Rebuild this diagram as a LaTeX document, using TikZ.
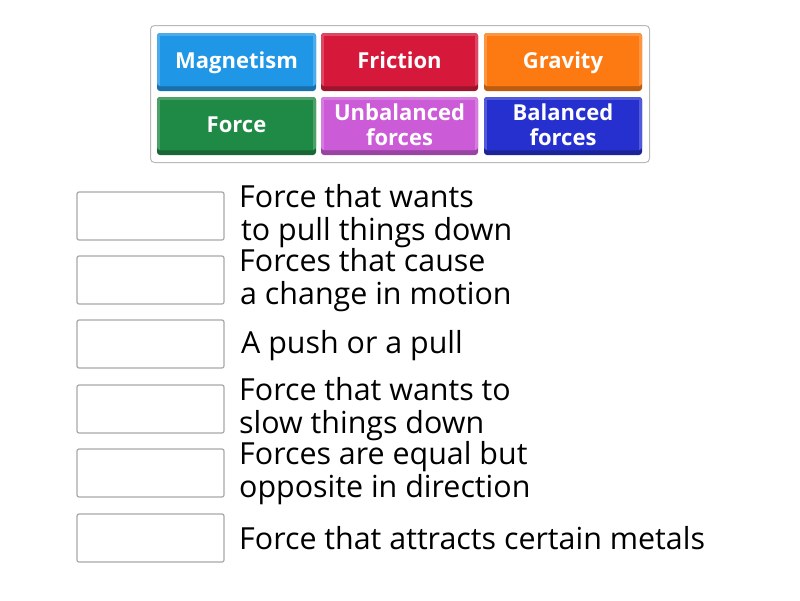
\documentclass[tikz,border=0pt]{standalone}
\usepackage{fontspec}
\setmainfont{Open Sans}
\definecolor{cMag}{HTML}{1F97E6}
\definecolor{cFri}{HTML}{D6193A}
\definecolor{cGra}{HTML}{FD7A12}
\definecolor{cFor}{HTML}{1F8A45}
\definecolor{cUnb}{HTML}{CC5BD8}
\definecolor{cBal}{HTML}{2530CF}
\definecolor{boxline}{HTML}{A8A8A8}
\begin{document}
\begin{tikzpicture}[x=1pt,y=-1pt,
  tiletext/.style={text=white,font=\fontsize{22}{25}\selectfont\bfseries,align=center,inner sep=0pt},
  desc/.style={anchor=west,align=left,inner sep=0pt,font=\fontsize{30.4}{33}\selectfont,text=black},
  ansbox/.style={draw=boxline,line width=1.2pt,fill=white,rounded corners=2pt}]
\useasboundingbox (0,0) rectangle (800,600);
\fill[white] (0,0) rectangle (800,600);
% panel
\draw[draw=boxline!80,line width=1pt,fill=white,rounded corners=4pt] (150.5,25.5) rectangle (649.5,162.5);
% tile macro
\newcommand{\mytile}[6]{%
  \fill[#5!75!black,rounded corners=3pt] (#1,#2) rectangle (#3,#4);
  \fill[#5!80!white,rounded corners=3pt] (#1,#2) rectangle (#3,#4-5);
  \fill[#5] (#1+3,#2+3) rectangle (#3-3,#4-5);
  \coordinate (#6) at ({(#1+#3)/2},{(#2+#4)/2});
}
\mytile{157}{33}{316}{91}{cMag}{tMag}
\node[tiletext,anchor=base] (nMag) at (tMag |- 0,68) {Magnetism};
\mytile{321}{33}{478}{91}{cFri}{tFri}
\node[tiletext,anchor=base] (nFri) at (tFri |- 0,68) {Friction};
\mytile{484}{33}{642}{91}{cGra}{tGra}
\node[tiletext,anchor=base] (nGra) at (tGra |- 0,68) {Gravity};
\mytile{157}{97}{316}{155}{cFor}{tFor}
\node[tiletext,anchor=base] (nFor) at (tFor |- 0,132) {Force};
\mytile{321}{97}{478}{155}{cUnb}{tUnb}
\node[tiletext] (nUnb) at ([yshift=1pt]tUnb) {Unbalanced\\forces};
\mytile{484}{97}{642}{155}{cBal}{tBal}
\node[tiletext] (nBal) at ([yshift=1pt]tBal) {Balanced\\forces};
% answer boxes and descriptions
\foreach \yy/\nm in {192/a1,256/a2,320/a3,385/a4,449/a5,514/a6}{
  \draw[ansbox] (77,\yy) rectangle (224,\yy+48);
  \coordinate (\nm) at (239,\yy+24);
}
\node[desc] (d1) at (a1) {Force that wants\\\hspace{2pt}to pull things down};
\node[desc] (d2) at (a2) {Forces that cause\\\hspace{1pt}a change in motion};
\node[desc] (d3) at ([xshift=2pt,yshift=-2pt]a3) {A push or a pull};
\node[desc] (d4) at (a4) {Force that wants to\\slow things down};
\node[desc] (d5) at (a5) {Forces are equal but\\opposite in direction};
\node[desc] (d6) at (a6) {Force that attracts certain metals};
\end{tikzpicture}
\end{document}
